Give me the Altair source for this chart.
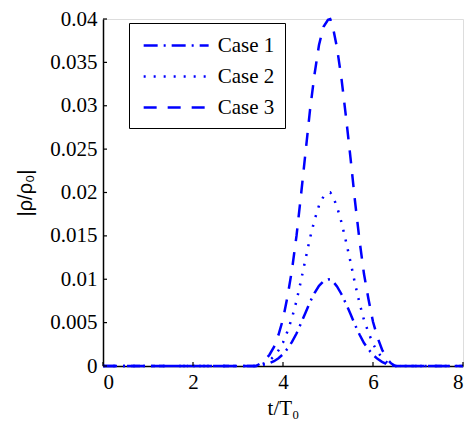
import altair as alt
import pandas as pd

# ---- data ----
t_vals = [0.0, 3.4, 3.5, 3.6, 3.7, 3.8, 3.9, 4.0, 4.1, 4.2, 4.3, 4.4, 4.5, 4.6, 4.7,
          4.8, 4.9, 5.0, 5.05, 5.1, 5.2, 5.3, 5.4, 5.5, 5.6, 5.7, 5.8, 5.9, 6.0,
          6.1, 6.2, 6.3, 6.4, 6.5, 8.0]
case3 = [0, 0, 0.0003, 0.0007, 0.0013, 0.0022, 0.0036, 0.0054, 0.0080, 0.0111,
         0.0150, 0.0197, 0.0246, 0.0295, 0.0336, 0.0370, 0.0391, 0.0399, 0.0400,
         0.0393, 0.0367, 0.0331, 0.0287, 0.0240, 0.0190, 0.0145, 0.0106, 0.0077,
         0.0051, 0.0033, 0.0019, 0.0009, 0.0003, 0, 0]
case2 = [0, 0, 0.00015, 0.00035, 0.00065, 0.0011, 0.0018, 0.0027, 0.0040, 0.00555,
         0.0075, 0.00985, 0.0123, 0.01475, 0.0168, 0.0185, 0.01955, 0.01995, 0.0200,
         0.01965, 0.01835, 0.01655, 0.01435, 0.0120, 0.0095, 0.00725, 0.0053,
         0.00385, 0.00255, 0.00165, 0.00095, 0.00045, 0.00015, 0, 0]
case1 = [0, 0, 0.000075, 0.000175, 0.000325, 0.00055, 0.0009, 0.00135, 0.0020,
         0.002775, 0.00375, 0.004925, 0.00615, 0.007375, 0.0084, 0.00925, 0.009775,
         0.009975, 0.0100, 0.009825, 0.009175, 0.008275, 0.007175, 0.0060, 0.00475,
         0.003625, 0.00265, 0.001925, 0.001275, 0.000825, 0.000475, 0.000225,
         0.000075, 0, 0]
case_names = ["Case 1", "Case 2", "Case 3"]
x_ticks = [0, 2, 4, 6, 8]
y_ticks = [0, 0.005, 0.01, 0.015, 0.02, 0.025, 0.03, 0.035, 0.04]

rows = []
for name, series in zip(case_names, [case1, case2, case3]):
    for t, v in zip(t_vals, series):
        rows.append({"t": t, "rho": v, "case": name})
df = pd.DataFrame(rows)

BLUE = "#0000FF"
SERIF = "Liberation Serif, Times New Roman, Times, serif"
SANS = "Liberation Sans, Arial, Helvetica, sans-serif"
W, H = 360, 347

xscale = alt.Scale(domain=[0, 8], nice=False)
yscale = alt.Scale(domain=[0, 0.04], nice=False)

lines = alt.Chart(df).mark_line(color=BLUE, strokeWidth=2.5, strokeCap="butt").encode(
    x=alt.X("t:Q", scale=xscale,
            axis=alt.Axis(values=x_ticks, title="t/T₀", grid=False, tickSize=0,
                          labelFont=SERIF, labelFontSize=21, titleFont=SERIF,
                          titleFontSize=21, titleFontWeight="normal", labelPadding=5,
                          titlePadding=5, domainColor="black", domainWidth=1.5,
                          labelColor="black", titleColor="black")),
    y=alt.Y("rho:Q", scale=yscale,
            axis=alt.Axis(values=y_ticks, format="~g", title="|ρ/ρ₀|", grid=False,
                          tickSize=0, labelFont=SERIF, labelFontSize=21,
                          titleFont=SANS, titleFontSize=20,
                          titleFontWeight="normal", labelPadding=6, titlePadding=14,
                          domainColor="black", domainWidth=1.5, labelColor="black",
                          titleColor="black")),
    strokeDash=alt.StrokeDash(
        "case:N",
        scale=alt.Scale(domain=case_names, range=[[14, 6, 2, 6], [2, 8], [13, 11]]),
        legend=alt.Legend(
            title=None, orient="none", legendX=26, legendY=4,
            symbolType="M-3,0L3,0", symbolSize=469, symbolStrokeWidth=2.5,
            symbolStrokeColor=BLUE, symbolOffset=24.65, labelOffset=29,
            labelFont=SERIF, labelFontSize=21, labelColor="black",
            padding=10, rowPadding=8, strokeColor="black", fillColor="white",
        ),
    ),
    order=alt.Order("t:Q"),
)

xt = alt.Chart(pd.DataFrame({"v": x_ticks})).mark_rule(color="black", strokeWidth=1.2).encode(
    x=alt.X("v:Q", scale=xscale), y=alt.value(H), y2=alt.value(H - 4))
yt = alt.Chart(pd.DataFrame({"v": y_ticks})).mark_rule(color="black", strokeWidth=1.2).encode(
    y=alt.Y("v:Q", scale=yscale), x=alt.value(0), x2=alt.value(4))

chart = alt.layer(lines, xt, yt).properties(
    width=W, height=H,
    autosize=alt.AutoSizeParams(type="none"),
    padding={"left": 95, "top": 11, "right": 3, "bottom": 60},
).configure_view(stroke=None).configure(background="white")

chart.save("out.html", embed_options={"renderer": "svg", "actions": False})
